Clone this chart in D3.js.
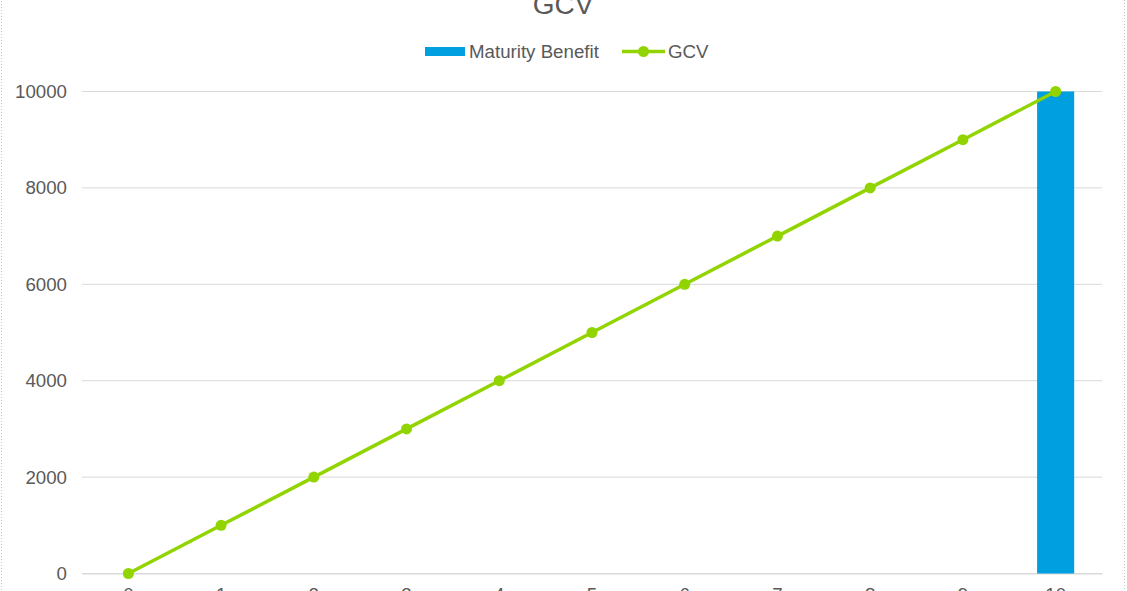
<!DOCTYPE html>
<html>
<head>
<meta charset="utf-8">
<script src="https://cdn.jsdelivr.net/npm/d3@7"></script>
<style>
  body { margin: 0; background: #fff; }
  svg { display: block; font-family: "Liberation Sans", Arial, sans-serif; }
</style>
</head>
<body>
<div id="chart"></div>
<script>
// Chart data
const categories = ["0", "1", "2", "3", "4", "5", "6", "7", "8", "9", "10"];
const maturityBenefit = [null, null, null, null, null, null, null, null, null, null, 10000];
const gcv = [0, 1000, 2000, 3000, 4000, 5000, 6000, 7000, 8000, 9000, 10000];
const yTicks = [0, 2000, 4000, 6000, 8000, 10000];

const width = 1127, height = 591;
const fontSize = '18.7px';

const svg = d3.select('#chart')
  .append('svg')
  .attr('width', width)
  .attr('height', height);

// Outer chart border (dotted, as in the screenshot edges)
svg.append('rect')
  .attr('x', 1.5).attr('y', -5)
  .attr('width', width - 4).attr('height', height + 10)
  .attr('fill', 'none')
  .attr('stroke', '#c8c8c8')
  .attr('stroke-dasharray', '1,2');

const x = d3.scaleBand().domain(categories).range([82, 1102]);
const y = d3.scaleLinear().domain([0, 10000]).range([573.5, 91.5]);

// Gridlines
svg.append('g')
  .selectAll('line')
  .data(yTicks)
  .enter().append('line')
  .attr('x1', 82).attr('x2', 1102)
  .attr('y1', d => y(d)).attr('y2', d => y(d))
  .attr('stroke', '#d9d9d9')
  .attr('stroke-width', 1);

// Y axis labels
const yAxis = svg.append('g')
  .attr('transform', 'translate(67,0)')
  .call(d3.axisLeft(y).tickValues(yTicks).tickSize(0).tickPadding(0).tickFormat(d3.format('d')));
yAxis.select('.domain').remove();
yAxis.selectAll('text')
  .attr('fill', '#595959')
  .style('font-size', fontSize)
  .style('font-family', '"Liberation Sans", Arial, sans-serif');

// X axis labels (cut off by the bottom edge, as in the reference)
const xAxis = svg.append('g')
  .attr('transform', 'translate(0,573.5)')
  .call(d3.axisBottom(x).tickSize(0).tickPadding(14));
xAxis.select('.domain').attr('stroke', '#d9d9d9');
xAxis.selectAll('text')
  .attr('fill', '#595959')
  .style('font-size', fontSize)
  .style('font-family', '"Liberation Sans", Arial, sans-serif');

// Bars: Maturity Benefit
const barW = x.bandwidth() * 0.4;
svg.append('g')
  .selectAll('rect')
  .data(categories.map((c, i) => ({c, v: maturityBenefit[i]})).filter(d => d.v != null))
  .enter().append('rect')
  .attr('x', d => x(d.c) + (x.bandwidth() - barW) / 2)
  .attr('y', d => y(d.v))
  .attr('width', barW)
  .attr('height', d => y(0) - y(d.v))
  .attr('fill', '#009fe0');

// Line: GCV
const pts = categories.map((c, i) => [x(c) + x.bandwidth() / 2, y(gcv[i])]);
svg.append('path')
  .attr('d', d3.line()(pts))
  .attr('fill', 'none')
  .attr('stroke', '#92d400')
  .attr('stroke-width', 3.5)
  .attr('stroke-linejoin', 'round');
svg.append('g')
  .selectAll('circle')
  .data(pts)
  .enter().append('circle')
  .attr('cx', d => d[0])
  .attr('cy', d => d[1])
  .attr('r', 5.5)
  .attr('fill', '#92d400');

// Title
svg.append('text')
  .attr('x', 563).attr('y', 14)
  .attr('text-anchor', 'middle')
  .attr('fill', '#595959')
  .style('font-size', '28px')
  .text('GCV');

// Legend
const legend = svg.append('g');
legend.append('rect')
  .attr('x', 425).attr('y', 47).attr('width', 40).attr('height', 9)
  .attr('fill', '#009fe0');
legend.append('text')
  .attr('x', 469).attr('y', 58)
  .attr('fill', '#595959')
  .style('font-size', fontSize)
  .text('Maturity Benefit');
legend.append('line')
  .attr('x1', 622).attr('x2', 665).attr('y1', 51.5).attr('y2', 51.5)
  .attr('stroke', '#92d400').attr('stroke-width', 3.5);
legend.append('circle')
  .attr('cx', 643.5).attr('cy', 51.5).attr('r', 5.5)
  .attr('fill', '#92d400');
legend.append('text')
  .attr('x', 668).attr('y', 58)
  .attr('fill', '#595959')
  .style('font-size', fontSize)
  .text('GCV');
</script>
</body>
</html>
